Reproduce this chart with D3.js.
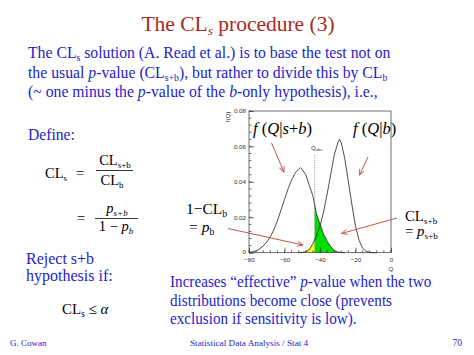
<!DOCTYPE html>
<html>
<head>
<meta charset="utf-8">
<script src="https://cdn.jsdelivr.net/npm/d3@7"></script>
<style>
  body { margin: 0; background: #fff; }
  svg { display: block; }
  text { font-family: "Liberation Serif", "Times New Roman", serif; }
  .tick text { font-family: "Liberation Sans", Arial, sans-serif; }
</style>
</head>
<body>
<div id="slide"></div>
<script>
// histogram of Q under s+b
const sbQ = [-80, -78, -76, -74, -72, -70, -68, -66, -64, -62, -60, -58, -56, -54, -52, -51, -50, -48, -46, -44, -42, -40, -38, -36, -34, -32, -30, -28, -26];
const sbF = [0.0002, 0.0005, 0.001, 0.0022, 0.0038, 0.006, 0.009, 0.013, 0.018, 0.024, 0.030, 0.036, 0.041, 0.045, 0.047, 0.048, 0.047, 0.044, 0.038, 0.032, 0.022, 0.016, 0.0105, 0.0065, 0.0035, 0.0013, 0.0004, 0.0001, 0];
// histogram of Q under b only
const bQ = [-52, -50, -48, -46, -44, -42, -40, -38, -36, -34, -32, -30, -29, -28, -26, -24, -22, -20, -18, -16, -14, -12, -10, -8];
const bF = [0, 0.0002, 0.0006, 0.0018, 0.0052, 0.0095, 0.015, 0.023, 0.033, 0.044, 0.055, 0.062, 0.064, 0.062, 0.053, 0.040, 0.027, 0.015, 0.007, 0.0025, 0.0008, 0.0002, 0, 0];
const qObs = -43;

const xTicks = [-80, -60, -40, -20, 0];
const yTicks = [0, 0.02, 0.04, 0.06, 0.08];

const blue = "#1e1ec8";
const arrowCol = "#c0564b";

const width = 474, height = 355;
const svg = d3.select("#slide").append("svg")
  .attr("width", width).attr("height", height)
  .attr("viewBox", [0, 0, width, height]);

// text with sub / italic runs; sx squeezes the run horizontally
function rich(parent, x, y, parts, opts) {
  const sx = opts.sx || 1;
  const t = parent.append("text")
    .attr("transform", `translate(${x},${y}) scale(${sx},1)`)
    .attr("font-size", opts.size)
    .attr("fill", opts.fill || "#000")
    .attr("text-anchor", opts.anchor || "start");
  parts.forEach(p => {
    if (typeof p === "string") { t.append("tspan").text(p); return; }
    const s = t.append("tspan").text(p.t);
    if (p.it) s.attr("font-style", "italic");
    if (p.sub) s.attr("font-size", opts.size * 0.62).attr("baseline-shift", "-30%");
  });
  return t;
}

// ---- title and paragraph
rich(svg, 238, 31, ["The CL", { t: "s", sub: true, it: true }, " procedure (3)"], { size: 21.5, fill: "#a82a1e", anchor: "middle" });

const para = [
  ["The CL", { t: "s", sub: true }, " solution (A. Read et al.) is to base the test not on"],
  ["the usual ", { t: "p", it: true }, "-value (CL", { t: "s+b", sub: true }, "), but rather to divide this by CL", { t: "b", sub: true }],
  ["(~ one minus the ", { t: "p", it: true }, "-value of the ", { t: "b", it: true }, "-only hypothesis), i.e.,"]
];
para.forEach((l, i) => rich(svg, 28, 58 + i * 19.6, l, { size: 17.5, fill: blue, sx: 0.9 }));

rich(svg, 28, 140, ["Define:"], { size: 17, fill: blue, sx: 0.92 });
rich(svg, 26, 264, ["Reject s+b"], { size: 16.5, fill: blue, sx: 0.97 });
rich(svg, 26, 281, ["hypothesis if:"], { size: 16.5, fill: blue, sx: 0.97 });

// ---- formulas
const mathSize = 14.5;
rich(svg, 45, 178, ["CL", { t: "s", sub: true }], { size: mathSize });
rich(svg, 76, 178, ["="], { size: mathSize });
rich(svg, 115, 165, ["CL", { t: "s+b", sub: true }], { size: mathSize, anchor: "middle" });
svg.append("line").attr("x1", 96).attr("x2", 133).attr("y1", 170.5).attr("y2", 170.5).attr("stroke", "#000").attr("stroke-width", 0.8);
rich(svg, 112, 185, ["CL", { t: "b", sub: true }], { size: mathSize, anchor: "middle" });

rich(svg, 77, 223, ["="], { size: mathSize });
rich(svg, 117, 213, [{ t: "p", it: true }, { t: "s+b", sub: true, it: true }], { size: mathSize, anchor: "middle" });
svg.append("line").attr("x1", 95).attr("x2", 138).attr("y1", 218.5).attr("y2", 218.5).attr("stroke", "#000").attr("stroke-width", 0.8);
rich(svg, 116, 231, ["1 − ", { t: "p", it: true }, { t: "b", sub: true, it: true }], { size: mathSize, anchor: "middle" });

rich(svg, 62, 314, ["CL", { t: "s", sub: true }, " ≤ ", { t: "α", it: true }], { size: 15 });

// ---- plot
const x = d3.scaleLinear().domain([-80, 0]).range([249, 391]);
const y = d3.scaleLinear().domain([0, 0.08]).range([252.7, 111]);

const defs = svg.append("defs");
defs.append("clipPath").attr("id", "leftObs").append("rect")
  .attr("x", x(-80)).attr("y", y(0.08)).attr("width", x(qObs) - x(-80)).attr("height", y(0) - y(0.08));
defs.append("clipPath").attr("id", "rightObs").append("rect")
  .attr("x", x(qObs)).attr("y", y(0.08)).attr("width", x(0) - x(qObs)).attr("height", y(0) - y(0.08));
defs.append("marker").attr("id", "arr")
  .attr("viewBox", "0 0 10 10").attr("refX", 9).attr("refY", 5)
  .attr("markerWidth", 7).attr("markerHeight", 7).attr("orient", "auto-start-reverse")
  .attr("markerUnits", "userSpaceOnUse")
  .append("path").attr("d", "M1,1.5L9,5L1,8.5").attr("fill", "none").attr("stroke", arrowCol).attr("stroke-width", 1.3);

const sbData = sbQ.map((q, i) => [q, sbF[i]]);
const bData = bQ.map((q, i) => [q, bF[i]]);

const area = d3.area().x(d => x(d[0])).y0(y(0)).y1(d => y(d[1]));
const line = d3.line().x(d => x(d[0])).y(d => y(d[1]));

svg.append("path").datum(bData).attr("d", area).attr("fill", "#ffff00").attr("clip-path", "url(#leftObs)");
svg.append("path").datum(sbData).attr("d", area).attr("fill", "#00dd00").attr("clip-path", "url(#rightObs)");

svg.append("line")
  .attr("x1", x(qObs)).attr("x2", x(qObs)).attr("y1", 155).attr("y2", y(0))
  .attr("stroke", "#888").attr("stroke-width", 0.8).attr("stroke-dasharray", "1.2,1.2");

svg.append("path").datum(sbData).attr("d", line).attr("fill", "none").attr("stroke", "#222").attr("stroke-width", 0.8);
svg.append("path").datum(bData).attr("d", line).attr("fill", "none").attr("stroke", "#222").attr("stroke-width", 0.8);

// frame
svg.append("rect").attr("x", x(-80)).attr("y", y(0.08)).attr("width", x(0) - x(-80)).attr("height", y(0) - y(0.08))
  .attr("fill", "none").attr("stroke", "#333").attr("stroke-width", 0.7);

const xAxis = svg.append("g").attr("transform", `translate(0,${y(0)})`)
  .call(d3.axisBottom(x).tickValues(xTicks).tickSize(-5).tickPadding(4.5).tickFormat(d3.format("d")));
const yAxis = svg.append("g").attr("transform", `translate(${x(-80)},0)`)
  .call(d3.axisLeft(y).tickValues(yTicks).tickSize(-5).tickPadding(3).tickFormat(d => d === 0 ? "0" : d3.format(".2f")(d)));
[xAxis, yAxis].forEach(g => {
  g.select(".domain").remove();
  g.selectAll(".tick line").attr("stroke", "#333").attr("stroke-width", 0.7);
  g.selectAll(".tick text").attr("font-size", 6.2).attr("fill", "#333");
});
yAxis.selectAll(".tick text").filter(d => d === 0).attr("dy", "0.1em");
// minor ticks
svg.append("g").selectAll("line").data(d3.range(-80, 0.1, 4))
  .join("line").attr("x1", d => x(d)).attr("x2", d => x(d)).attr("y1", y(0)).attr("y2", y(0) - 2.5)
  .attr("stroke", "#333").attr("stroke-width", 0.7);
svg.append("g").selectAll("line").data(d3.range(0, 0.0801, 0.004))
  .join("line").attr("x1", x(-80)).attr("x2", x(-80) + 2.5).attr("y1", d => y(d)).attr("y2", d => y(d))
  .attr("stroke", "#333").attr("stroke-width", 0.7);

svg.append("text").attr("x", 391).attr("y", 271).attr("font-size", 6.2).attr("text-anchor", "middle")
  .style("font-family", "Liberation Sans, Arial, sans-serif").attr("fill", "#333").text("Q");
svg.append("text").attr("transform", "translate(230,117) rotate(-90)").attr("font-size", 6.2).attr("text-anchor", "middle")
  .style("font-family", "Liberation Sans, Arial, sans-serif").attr("fill", "#333").text("f(Q)");
const qo = svg.append("text").attr("x", 311).attr("y", 150).attr("font-size", 6.2)
  .style("font-family", "Liberation Sans, Arial, sans-serif").attr("fill", "#333");
qo.append("tspan").text("Q");
qo.append("tspan").text("obs").attr("font-size", 4).attr("baseline-shift", "-30%");

// curve labels
rich(svg, 253, 134, [{ t: "f", it: true }, " (", { t: "Q", it: true }, "|", { t: "s", it: true }, "+", { t: "b", it: true }, ")"], { size: 16.5 });
rich(svg, 353, 134, [{ t: "f", it: true }, " (", { t: "Q", it: true }, "|", { t: "b", it: true }, ")"], { size: 16.5 });

rich(svg, 186, 214, ["1−CL", { t: "b", sub: true }], { size: 15.5 });
rich(svg, 189, 232, ["= ", { t: "p", it: true }, { t: "b", sub: true }], { size: 15.5 });
rich(svg, 405, 220.5, ["CL", { t: "s+b", sub: true }], { size: 14.8 });
rich(svg, 405, 235.5, ["= ", { t: "p", it: true }, { t: "s+b", sub: true }], { size: 14.8 });

// arrows
const arrows = [
  [271.5, 143, 284, 172],
  [368, 157, 359.5, 175],
  [228, 228.5, 303, 245],
  [397, 218, 341.5, 233.5]
];
svg.append("g").selectAll("line").data(arrows).join("line")
  .attr("x1", d => d[0]).attr("y1", d => d[1]).attr("x2", d => d[2]).attr("y2", d => d[3])
  .attr("stroke", arrowCol).attr("stroke-width", 1).attr("marker-end", "url(#arr)");

// bottom paragraph
const bottom = [
  ["Increases “effective” ", { t: "p", it: true }, "-value  when the two"],
  ["distributions become close (prevents"],
  ["exclusion if sensitivity is low)."]
];
bottom.forEach((l, i) => rich(svg, 170, 287 + i * 18.6, l, { size: 16.5, fill: blue, sx: 0.92 }));

// footer
rich(svg, 10, 346, ["G. Cowan"], { size: 9, fill: blue });
rich(svg, 190, 346, ["Statistical Data Analysis / Stat 4"], { size: 9.2, fill: blue });
rich(svg, 462, 346, ["70"], { size: 9.5, fill: blue, anchor: "end" });
</script>
</body>
</html>
